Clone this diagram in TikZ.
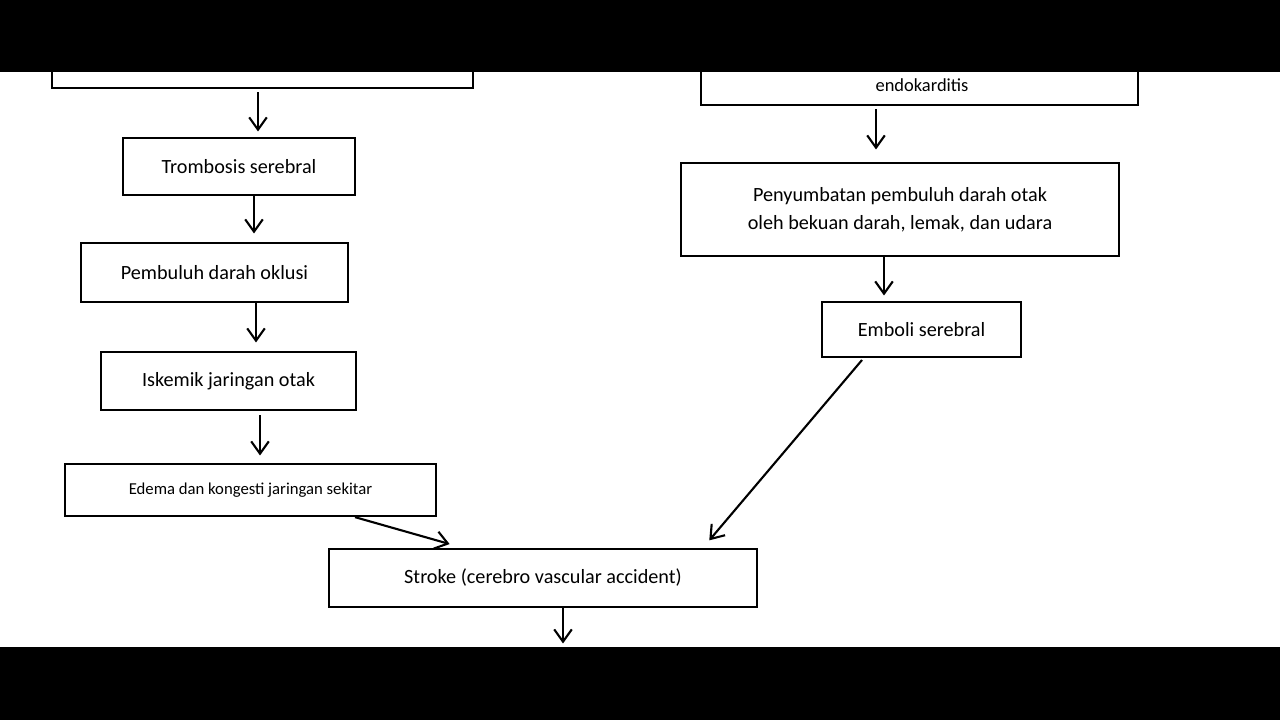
\documentclass[tikz,border=0pt]{standalone}
\usepackage{fontspec}
\setmainfont{Carlito}
\usetikzlibrary{arrows.meta}
\tikzset{
  box/.style={draw, line width=1.3pt, inner sep=0pt, align=center, font=\fontsize{11.5}{16}\selectfont},
  flow/.style={-{Straight Barb[length=7pt,width=10pt]}, line width=1.2pt, shorten >=2pt}
}
\begin{document}
\begin{tikzpicture}[x=0.02cm, y=-0.02cm]
    \useasboundingbox (0,0) rectangle (1280,720);
    \fill[white] (0,0) rectangle (1280,720);

    % left column
    \node (cause) [box, minimum width=421*0.02cm, minimum height=40*0.02cm] at (262.5,68) {};
    \node (tromb) [box, minimum width=232*0.02cm, minimum height=57*0.02cm] at (239,166.5) {Trombosis serebral};
    \node (okl) [box, minimum width=267*0.02cm, minimum height=59*0.02cm] at (214.5,272.5) {Pembuluh darah oklusi};
    \node (isk) [box, minimum width=255*0.02cm, minimum height=58*0.02cm] at (228.5,381) {Iskemik jaringan otak};
    \node (edema) [box, minimum width=371*0.02cm, minimum height=52*0.02cm, font=\fontsize{9.5}{12}\selectfont] at (250.5,490) {Edema dan kongesti jaringan sekitar};

    % right column
    \node (endo) [box, minimum width=437*0.02cm, minimum height=60*0.02cm, text depth=0pt] at (919.5,75) {};
    \node at (922,85) {\fontsize{10.5}{12}\selectfont endokarditis};
    \node (sumbat) [box, minimum width=438*0.02cm, minimum height=93*0.02cm] at (900,209.5) {Penyumbatan pembuluh darah otak\\oleh bekuan darah, lemak, dan udara};
    \node (emboli) [box, minimum width=199*0.02cm, minimum height=55*0.02cm] at (921.5,329.5) {Emboli serebral};

    \node (stroke) [box, minimum width=428*0.02cm, minimum height=58*0.02cm] at (543,578) {Stroke (cerebro vascular accident)};
    \coordinate (next) at (563,647);

    % arrows
    \draw[flow] (258,92) -- (258,135);
    \draw[flow] (tromb.south -| 254,0) -- (254,237);
    \draw[flow] (okl.south -| 256,0) -- (256,346);
    \draw[flow] (260,415) -- (260,459);
    \draw[flow] (edema.south -| 355,0) -- (453,545);
    \draw[flow] (862,360) -- (707,543);
    \draw[flow] (876,109) -- (876,153);
    \draw[flow] (sumbat.south -| 884,0) -- (884,299);
    \draw[flow] (stroke.south -| 563,0) -- (next);

    % black bars
    \fill[black] (0,0) rectangle (1280,72);
    \fill[black] (0,647) rectangle (1280,720);
\end{tikzpicture}
\end{document}
